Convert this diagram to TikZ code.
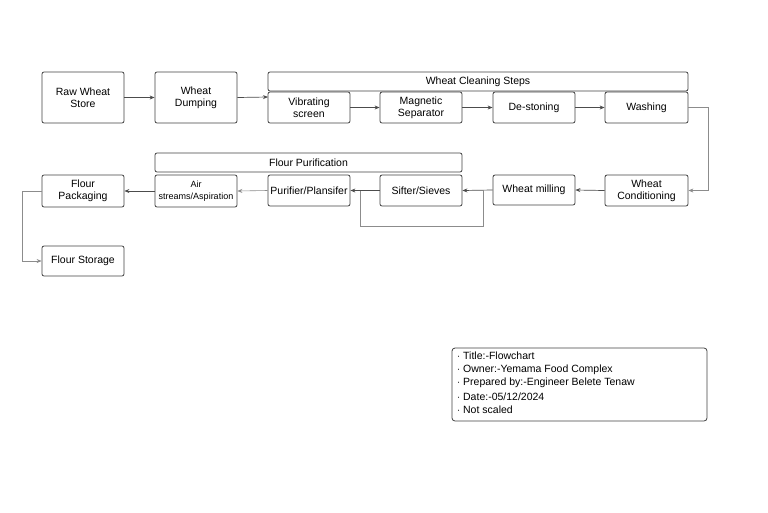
\documentclass[tikz,border=0pt]{standalone}
\usepackage{fontspec}
\setmainfont{Liberation Sans}
\usetikzlibrary{arrows.meta}
\begin{document}
\begin{tikzpicture}[x=1pt,y=-1pt,
 bx/.style={draw=black!75,rounded corners=2pt,line width=0.8pt,align=center,font=\fontsize{10.5}{12}\selectfont,inner sep=1pt},
 ar/.style={-{Stealth[length=5pt,width=4pt]},draw=black!70,line width=0.7pt},
 gl/.style={draw=black!45,line width=0.6pt},
 lt/.style={anchor=west,font=\fontsize{10.5}{12}\selectfont,inner sep=0pt}]
\useasboundingbox (0,0) rectangle (768,512);
\newcommand\bxat[6]{\node[bx,minimum width={#4-#2},minimum height={#5-#3}] (#1) at ({(#2+#4)/2},{(#3+#5)/2}) {#6};}
\bxat{raw}{42}{72}{124}{123}{Raw Wheat\\Store}
\bxat{dump}{155}{72}{237}{123}{Wheat\\Dumping}
\bxat{wcs}{268}{72}{688}{91}{Wheat Cleaning Steps}
\bxat{vib}{268}{92}{350}{123}{Vibrating\\screen}
\bxat{mag}{380}{92}{462}{123}{Magnetic\\Separator}
\bxat{des}{493}{92}{575}{123}{De-stoning}
\bxat{was}{605}{92}{688}{123}{Washing}
\bxat{fp}{155}{153}{462}{172}{Flour Purification}
\bxat{pack}{42}{175}{124}{207}{Flour\\Packaging}
\bxat{air}{155}{175}{237}{207}{\fontsize{9}{10}\selectfont Air\\\fontsize{9}{10}\selectfont streams/Aspiration}
\bxat{pur}{268}{175}{350}{206}{Purifier/Plansifer}
\bxat{sif}{380}{175}{462}{206}{Sifter/Sieves}
\bxat{mil}{493}{175}{575}{205}{Wheat milling}
\bxat{con}{605}{175}{688}{206}{Wheat\\Conditioning}
\bxat{sto}{42}{246}{124}{276}{Flour Storage}
\coordinate (cin) at (268,97);
\draw[ar] (raw.east) -- (dump.west);
\draw[ar] (dump.east) -- (cin);
\draw[ar] (vib.east) -- (mag.west);
\draw[ar] (mag.east) -- (des.west);
\draw[ar] (des.east) -- (was.west);
\draw[gl,-{Stealth[length=5pt,width=4pt]}] (was.east) -- (708,107.5) -- (708,190.5) -- (con.east);
\draw[ar] (con.west) -- (mil.west -| mil.east);
\draw[ar] (mil.west) -- (sif.east);
\draw[gl] (sif.east) ++(8,0) coordinate (l1) -- (483,190.5) -- (483,226) -- (360,226) -- (360,190.5);
\draw[ar] (sif.west) -- (pur.east);
\draw[gl,-{Stealth[length=5pt,width=4pt]}] (pur.west) -- (air.east);
\draw[ar] (air.west) -- (pack.east);
\draw[gl,-{Stealth[length=5pt,width=4pt]}] (pack.west) -- (22,191) -- (22,261) -- (sto.west);
\node[bx,minimum width=255,minimum height=73,rounded corners=3pt] (leg) at (579.5,384.5) {};
\foreach \t [count=\i] in {Title:-Flowchart,Owner:-Yemama Food Complex,Prepared by:-Engineer Belete Tenaw,Date:-05/12/2024,Not scaled}
  \node[lt] (t\i) at (457,{342.5+13.5*\i}) {$\cdot$ \t};
\end{tikzpicture}
\end{document}
